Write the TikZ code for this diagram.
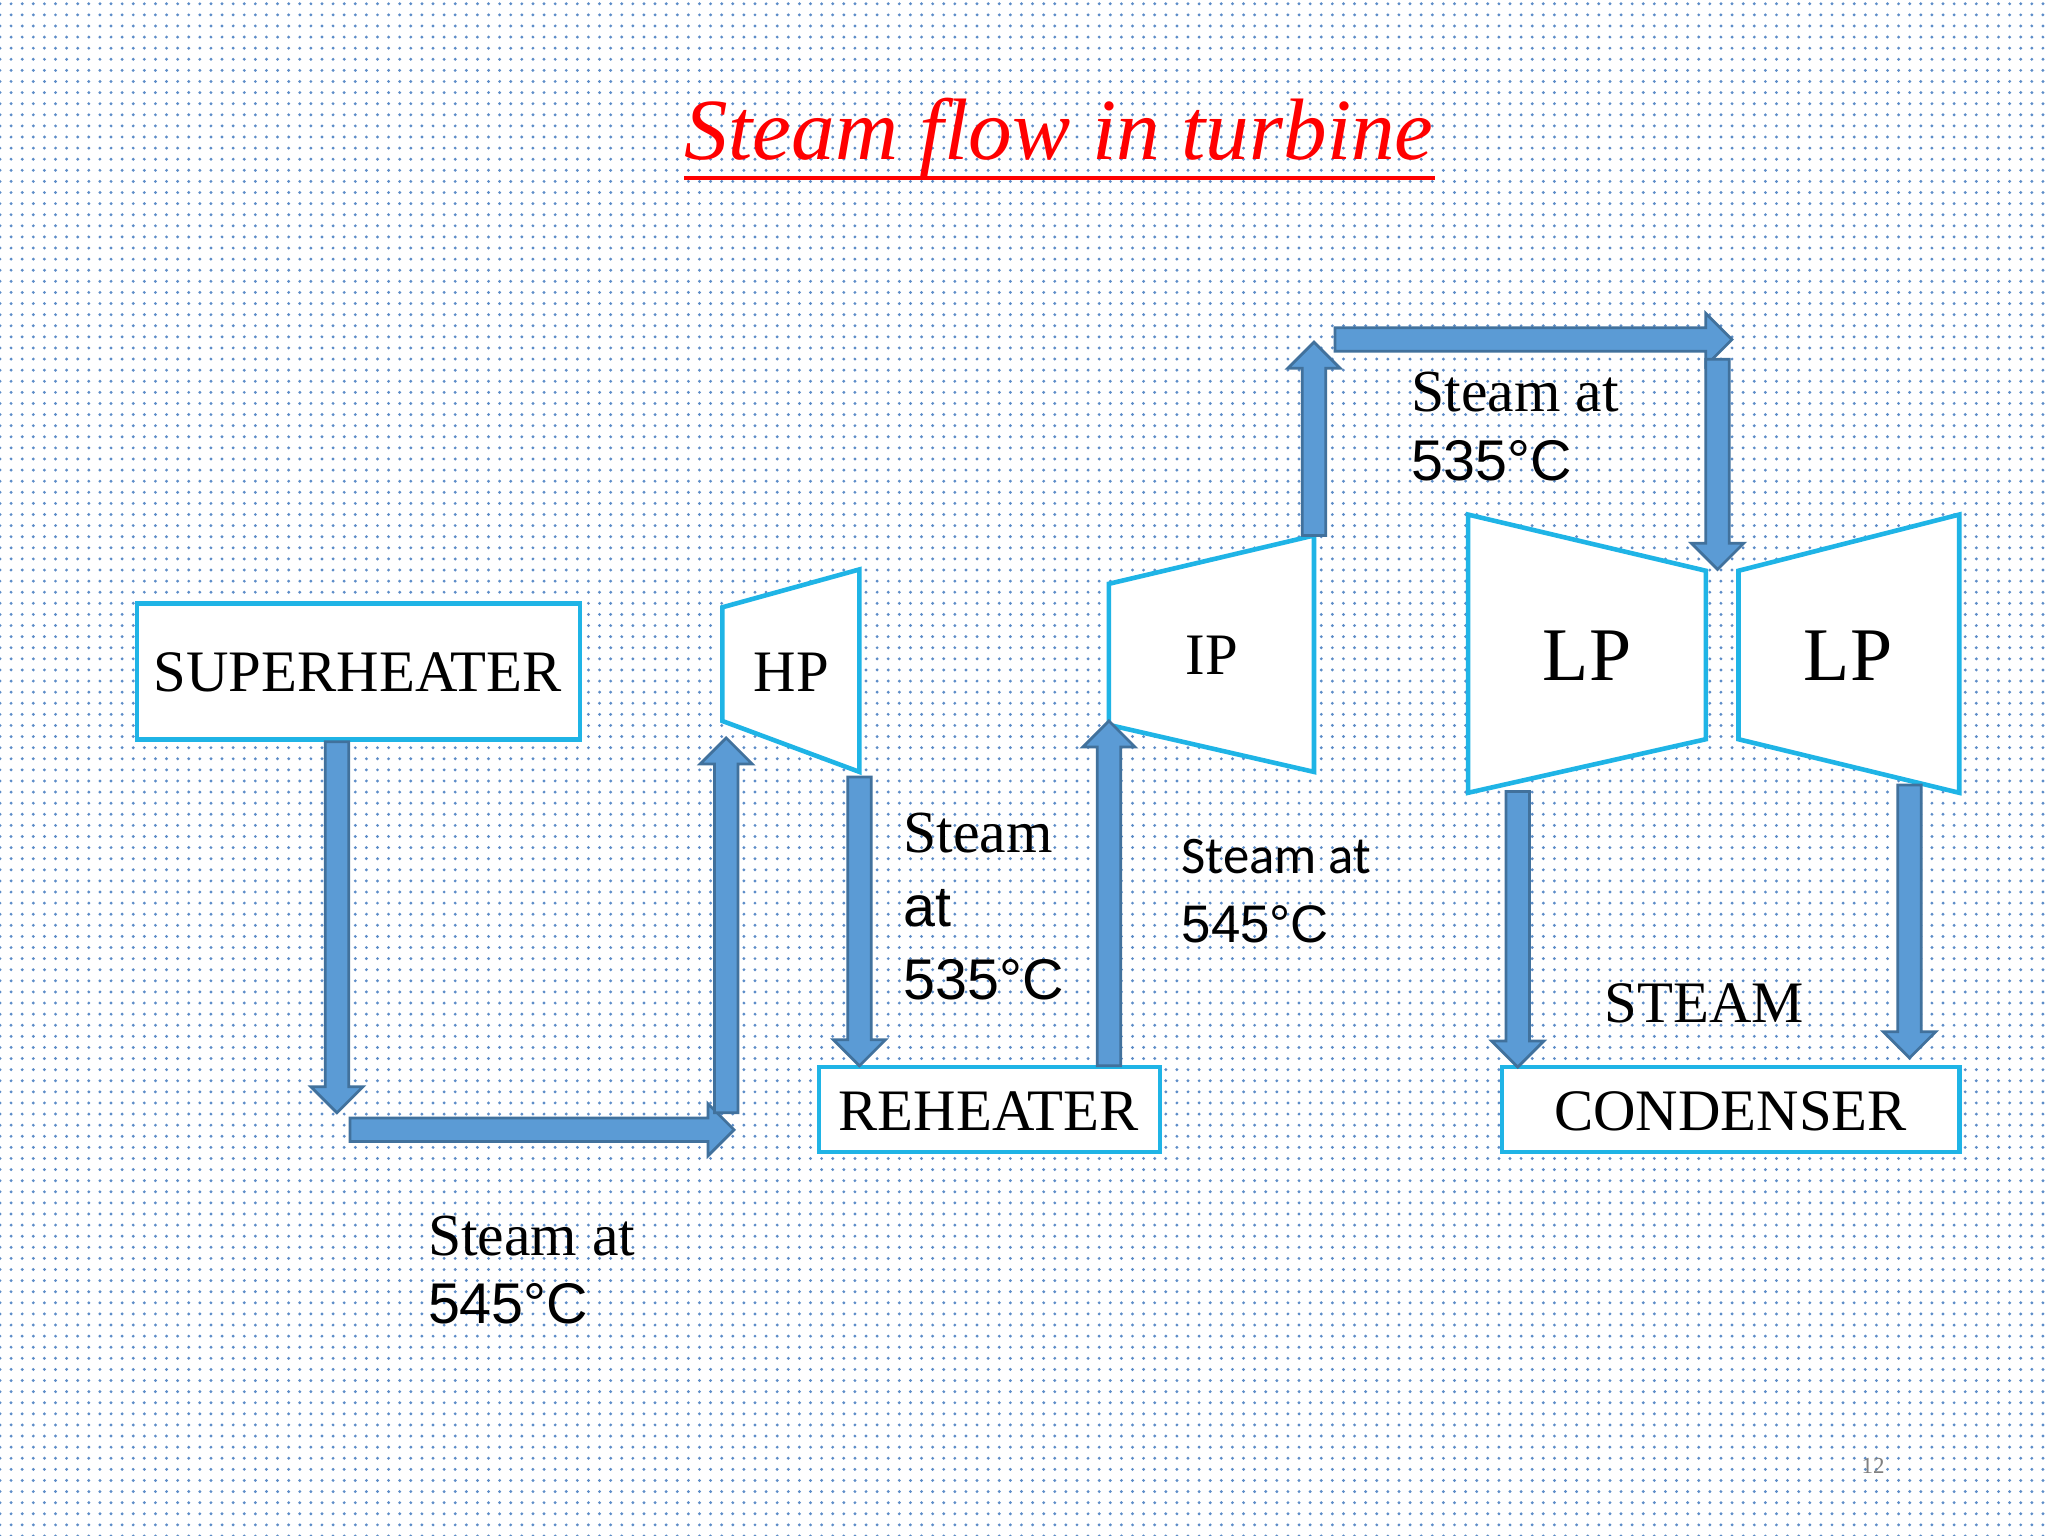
\documentclass[tikz,border=0pt]{standalone}
\usepackage{fontspec}
\setmainfont{Liberation Serif}
\newfontfamily\arialf{Liberation Sans}
\newfontfamily\calf{Carlito}
\usetikzlibrary{patterns.meta}
\definecolor{arrowfill}{HTML}{5B9BD5}
\definecolor{arrowedge}{HTML}{41719C}
\definecolor{boxedge}{HTML}{1FB4E6}
\definecolor{dotc}{HTML}{5C8CC8}
\newcommand{\px}[2]{(#1/100,{11.76-#2/100})}
\newcommand{\arrdown}[3]{% x, ystart, ytip
 \filldraw[barrow] ({#1/100-0.09},{11.76-#2/100}) -- ({#1/100+0.09},{11.76-#2/100}) -- ({#1/100+0.09},{11.76-#3/100+0.2}) -- ({#1/100+0.2},{11.76-#3/100+0.2}) -- ({#1/100},{11.76-#3/100}) -- ({#1/100-0.2},{11.76-#3/100+0.2}) -- ({#1/100-0.09},{11.76-#3/100+0.2}) -- cycle;}
\newcommand{\arrup}[3]{%
 \filldraw[barrow] ({#1/100-0.09},{11.76-#2/100}) -- ({#1/100+0.09},{11.76-#2/100}) -- ({#1/100+0.09},{11.76-#3/100-0.2}) -- ({#1/100+0.2},{11.76-#3/100-0.2}) -- ({#1/100},{11.76-#3/100}) -- ({#1/100-0.2},{11.76-#3/100-0.2}) -- ({#1/100-0.09},{11.76-#3/100-0.2}) -- cycle;}
\newcommand{\arrright}[3]{% y, xstart, xtip
 \filldraw[barrow] ({#2/100},{11.76-#1/100+0.09}) -- ({#2/100},{11.76-#1/100-0.09}) -- ({#3/100-0.2},{11.76-#1/100-0.09}) -- ({#3/100-0.2},{11.76-#1/100-0.2}) -- ({#3/100},{11.76-#1/100}) -- ({#3/100-0.2},{11.76-#1/100+0.2}) -- ({#3/100-0.2},{11.76-#1/100+0.09}) -- cycle;}
\begin{document}
\begin{tikzpicture}[
 barrow/.style={fill=arrowfill,draw=arrowedge,line width=0.6pt},
 comp/.style={fill=white,draw=boxedge,line width=1pt},
 lbl/.style={font=\fontsize{12.8}{14}\selectfont,inner sep=0},
 txt/.style={align=left,anchor=north west,inner sep=0}]
\fill[white] (0,0) rectangle (15.68,11.76);
\fill[pattern={Dots[radius=0.35pt,distance=0.085cm]},pattern color=dotc] (0,0) rectangle (15.68,11.76);
\useasboundingbox (0,0) rectangle (15.68,11.76);
% title
\node[text=red,font=\fontsize{19}{22}\selectfont\itshape,inner sep=0,anchor=base] (title) at \px{811}{122} {Steam flow in turbine};
\draw[red,line width=0.8pt] ([yshift=-4pt]title.base west) -- ([yshift=-4pt]title.base east);
% boxes
\draw[comp] \px{105}{462} rectangle \px{444}{566};
\node[lbl] (sh) at \px{274}{515} {SUPERHEATER};
\draw[comp] \px{627}{817} rectangle \px{888}{882};
\node[lbl] (rh) at \px{757}{851} {REHEATER};
\draw[comp] \px{1150}{817} rectangle \px{1500}{882};
\node[lbl] (cd) at \px{1325}{851} {CONDENSER};
% turbines
\draw[comp] \px{553}{465} -- \px{658}{436} -- \px{658}{591} -- \px{553}{552} -- cycle;
\node[lbl] (hp) at \px{606}{515} {HP};
\draw[comp] \px{849}{447} -- \px{1006}{410} -- \px{1006}{591} -- \px{849}{555} -- cycle;
\node[lbl] (ip) at \px{928}{502} {IP};
\draw[comp] \px{1124}{394} -- \px{1306}{437} -- \px{1306}{566} -- \px{1124}{607} -- cycle;
\node[lbl,font=\fontsize{16.5}{19}\selectfont] (lp1) at \px{1215}{502} {LP};
\draw[comp] \px{1331}{437} -- \px{1500}{394} -- \px{1500}{607} -- \px{1331}{566} -- cycle;
\node[lbl,font=\fontsize{16.5}{19}\selectfont] (lp2) at \px{1415}{502} {LP};
% arrows
\arrdown{258}{568}{852}
\arrright{865}{268}{562}
\arrup{556}{852}{565}
\arrdown{658}{595}{816}
\arrup{849}{816}{552}
\arrup{1006}{410}{262}
\arrright{260}{1022}{1326}
\arrdown{1315}{275}{436}
\arrdown{1162}{606}{817}
\arrdown{1462}{601}{810}
% texts
\node[txt] (t1) at \px{327}{930} {\fontsize{13}{15}\selectfont Steam at\\[3pt]\arialf\fontsize{12.5}{15}\selectfont 545°C};
\node[txt] (t2) at \px{691}{622} {\fontsize{13}{15}\selectfont Steam\\[4pt]\arialf\fontsize{12.5}{15}\selectfont at\\[4pt]\arialf\fontsize{12.5}{15}\selectfont 535°C};
\node[txt] (t3) at \px{904}{642} {\calf\fontsize{11.5}{14}\selectfont Steam at\\[3pt]\arialf\fontsize{11.5}{14}\selectfont 545°C};
\node[txt] (t4) at \px{1080}{284} {\fontsize{13}{15}\selectfont Steam at\\[3pt]\arialf\fontsize{12.5}{15}\selectfont 535°C};
\node[lbl] (st) at \px{1305}{768} {STEAM};
\node[text=gray,font=\fontsize{5}{6}\selectfont,inner sep=0] (pg) at \px{1434}{1122} {12};
\end{tikzpicture}
\end{document}
